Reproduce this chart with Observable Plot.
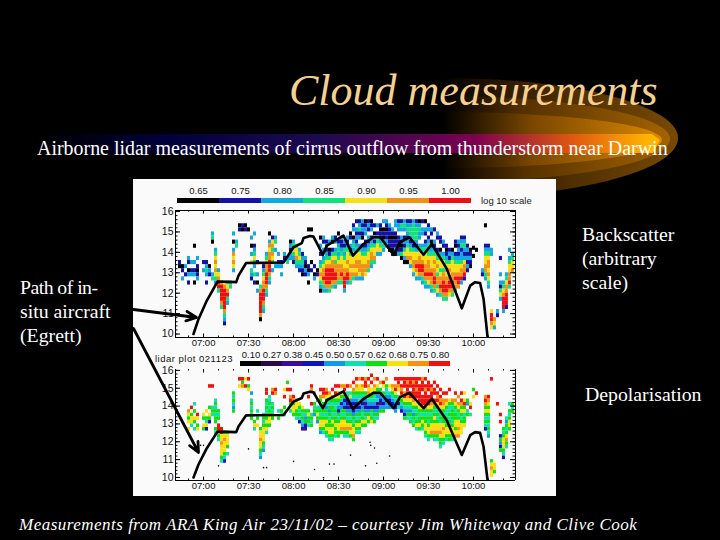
<!DOCTYPE html>
<html>
<head>
<meta charset="utf-8">
<script src="https://cdn.jsdelivr.net/npm/d3@7"></script>
<script src="https://cdn.jsdelivr.net/npm/@observablehq/plot@0.6"></script>
<style>
html,body{margin:0;padding:0;background:#000;}
#slide{position:relative;width:720px;height:540px;overflow:hidden;background:#000;font-family:"Liberation Serif",serif;}
#slide>*{position:absolute;}
.t{color:#fff;white-space:nowrap;line-height:24px;}
svg{overflow:visible;}
</style>
</head>
<body>
<div id="slide">
<svg id="swoosh" width="720" height="540" style="left:0;top:0">
  <defs>
    <linearGradient id="fadeA" gradientUnits="userSpaceOnUse" x1="443" x2="680" y1="0" y2="0">
      <stop offset="0" stop-color="#000"/><stop offset="0.35" stop-color="#3c2200"/><stop offset="1" stop-color="#7a4a05"/>
    </linearGradient>
    <linearGradient id="fadeB" gradientUnits="userSpaceOnUse" x1="443" x2="672" y1="0" y2="0">
      <stop offset="0" stop-color="#000"/><stop offset="0.35" stop-color="#543000"/><stop offset="1" stop-color="#a56400"/>
    </linearGradient>
    <linearGradient id="fadeC" gradientUnits="userSpaceOnUse" x1="443" x2="664" y1="0" y2="0">
      <stop offset="0" stop-color="#000"/><stop offset="0.4" stop-color="#7a4600"/><stop offset="1" stop-color="#dd8800"/>
    </linearGradient>
    <linearGradient id="band" gradientUnits="userSpaceOnUse" x1="40" x2="660" y1="0" y2="0">
      <stop offset="0" stop-color="#000"/><stop offset="0.2" stop-color="#00003c"/>
      <stop offset="0.45" stop-color="#1c0a50"/><stop offset="0.70" stop-color="#7c0050"/>
      <stop offset="0.86" stop-color="#e05810"/><stop offset="0.98" stop-color="#ffb400"/>
    </linearGradient>
    <clipPath id="rightSide"><rect x="443" y="0" width="277" height="540"/></clipPath>
  </defs>
  <g clip-path="url(#rightSide)">
    <ellipse cx="443" cy="138" rx="235" ry="60" fill="url(#fadeA)"/>
    <ellipse cx="443" cy="139" rx="227" ry="43" fill="url(#fadeB)"/>
    <ellipse cx="443" cy="140" rx="219" ry="28" fill="url(#fadeC)"/>
  </g>
  <path d="M40,134 H652 L660,140 L653,153 H40 Z" fill="url(#band)"/>
</svg>
<div class="t" id="title" style="left:289px;top:66px;font-size:44px;line-height:50px;font-style:italic;color:#f6d08e;"></div>
<div class="t" id="subtitle" style="left:37px;top:136px;font-size:19.95px;"></div>
<div id="image" style="left:133px;top:179px;width:423px;height:317px;background:#fafafa;"></div>
<div class="t" id="pathNote" style="left:20px;top:275px;font-size:19.8px;"></div>
<div class="t" id="backNote" style="left:582px;top:222px;font-size:19.8px;"></div>
<div class="t" id="depolNote" style="left:585px;top:382px;font-size:19.8px;"></div>
<div class="t" id="footer" style="left:19px;top:513px;font-size:17px;font-style:italic;letter-spacing:.49px;"></div>
<div id="log10" style="left:481px;top:195px;font:9.5px 'Liberation Sans',sans-serif;color:#222;white-space:nowrap;"></div>
<div id="runLabel" style="left:155px;top:353px;font:9.5px 'Liberation Sans',sans-serif;color:#111;white-space:nowrap;letter-spacing:.5px;"></div>
</div>
<script>
// ---------- slide text ----------
const titleText = "Cloud measurements";
const subtitleText = "Airborne lidar measurements of cirrus outflow from thunderstorm near Darwin";
const pathLines = ["Path of in-", "situ aircraft", "(Egrett)"];
const backLines = ["Backscatter", "(arbitrary", "scale)"];
const depolText = "Depolarisation";
const footerText = "Measurements from ARA King Air 23/11/02 – courtesy Jim Whiteway and Clive Cook";
const log10Text = "log 10 scale";
const runText = "lidar plot 021123";

// ---------- scales ----------
const timeDomain = [-18.7, 208];          // minutes after 07:00
const altitudeDomain = [9.83, 16.05];     // km
const timeTicks = [0, 30, 60, 90, 120, 150, 180];
const timeMinorTicks = [-10,0,10,20,30,40,50,60,70,80,90,100,110,120,130,140,150,160,170,180,190,200];
const altitudeTicks = [10, 11, 12, 13, 14, 15, 16];
const altitudeMinorTicks = d3.range(10, 16.01, 0.2);

// ---------- colour legends ----------
const backscatterLevels = ["0.65","0.75","0.80","0.85","0.90","0.95","1.00"];
const backscatterColours = ["#000000","#1410a8","#12a8e0","#12e07c","#f8de14","#f09014","#ee1010"];
const backscatterCodes = "kbcgyor";
const depolLevels = ["0.10","0.27","0.38","0.45","0.50","0.57","0.62","0.68","0.75","0.80"];
const depolColours = ["#000000","#2c0a44","#3c0c98","#1010c4","#109ae8","#10e0b0","#10e010","#f8e010","#f89010","#f01010"];
const depolCodes = "kpibctgyor";

// ---------- aircraft altitude: minutes after 07:00, km ----------
const flightMinutes = [-6.7,-3.3,2.2,9.3,21.8,23.3,28.4,53.3,60,65.5,66.7,71,73.3,79.6,82.2,93.3,99.6,106.7,113.3,117.8,126.7,131,137.3,146.7,152.2,162.2,172.2,177.8,181.1,184.4,186.7,189.3];
const flightAltitude = [10,10.74,11.64,12.57,12.54,12.86,13.48,13.5,14.25,14.45,14.7,14.8,14.77,13.88,14.33,14.82,13.84,14.41,14.74,14.74,13.88,14.5,14.74,13.88,14.41,13.19,11.26,12.37,12.54,12.5,11.72,9.9];

// ---------- lidar curtains: [2-minute column, top km, codes down in 0.2 km steps] ----------
const columnMinutes = 2, rowKm = 0.2, firstColumnMinute = -18.7;
const backscatterColumns = [
[1,13.6,"bk"],[2,13.4,"kb.c"],[3,13.4,"c.b"],[4,13.8,"cb.kc.b"],[5,13.6,"c.bc"],[6,14.4,"k...c.bc.k"],[7,13.8,"c.bkbc"],
[9,13.6,"b.c"],[10,13.6,"bcgc.b"],[11,13.4,"kcb"],[12,15,"cgk.......cg"],[13,14.2,"cgyoyoygc"],[14,13.2,"cyorrg"],
[15,12.6,"orrrrog"],[16,12.6,"yorrrrrogcb"],[17,12.6,"gyorgc"],[18,12.6,"cg"],[19,15,"c.k.coyoyc"],[20,14.6,"cg"],
[21,15.4,"kb"],[22,15.4,"bk"],[23,15.4,"kb"],[24,15.2,"k"],[25,14.8,"c.k.c.y.gcb"],[26,15,"c..bcgygc.g.b"],[27,13.6,"b..c.k.c"],
[28,12.4,"gorrrrrok"],[29,13.4,"bcgyoorrrogc"],[30,14,"cgyoorrrogc"],[31,15,"k.coyoorrrogc"],[32,14.8,"byogoyg.c"],[33,14.8,"cg.c...c"],
[34,14,"c.bc"],[35,13.6,"bc.c"],[36,14,"cb"],[37,13.8,"cg"],
[38,14.6,"kcbcc"],[39,14.6,"cgygcb"],[40,14.4,"gyyogc"],[41,14.2,"cgygcb"],[42,14,"bcgcbk"],[43,13.8,"cbkcb"],[44,15.2,"k........bkc.k"],[45,15.2,"k.......k.b"],[46,13.4,"b.kc"],[47,13.2,"kb"],
[48,14.8,"k.c.b.cgyoygck"],[49,14.8,"cb.c.cgyoorogc"],[50,14.6,"bcbcgyorrrroc"],[51,14.6,"c.kbgyorrrrog"],[52,14.8,"ck.bgyoorrrog"],[53,14.8,"bc.cgygoorroc"],
[54,15,"k.bcgcgyoooog"],[55,14.8,"cbbcgyyoorog"],[56,14.6,"cbgcgyyoorrrc"],[57,14.8,"cbcgyyoyorrc"],[58,15.4,"..kb.cbgyyoyoog"],[59,15.4,"bc.kcgcyyyoyog"],
[60,15.6,"b.cbcbcgyyooyoc"],[61,15.6,"bcgbc.cgyyoooyc"],[62,15.6,"cbcbk.bcgyyoooc"],[63,15.6,"kbcc.bbcgyyooy"],[64,15.6,"bcb.cbcgyyoog"],[65,15.6,"kbc.bcgyoogc"],
[66,15.4,"b.kcbgyyog"],[67,15.4,"c.bcgyyc"],[68,15.4,"bkbbcgyc"],[69,15.6,"c.kbkcgc"],[70,15.6,"cbkbbcc"],[71,15.4,"cbbkbbk"],[72,15.2,"cbkbbkb"],
[73,15.6,"cc.bkbbck"],[74,15.6,"bcc.bbkbc"],[75,15.6,"bgc.cbkbgk"],[76,15.6,"cgc.bcbgyck"],[77,15.6,"bcgcbcgyyok"],[78,15.6,"bcggcbcgyoyc"],
[79,15.6,"cggggcbgyyooyc"],[80,15.6,"bcgggcbcyyoroyc"],[81,15.6,"kcgcc.cgyoorroc"],[82,15.6,"b.cc..cgyyorrogc"],[83,15.6,"k.cb.bcgyyyoorogc"],
[84,15.4,"bc.bcgcgyoooroyc"],[85,15.2,"cb.kbcgyyyoroogc"],[86,15.2,"b..cbcgyoyoorrog"],[87,15,"cb..bcgyoygoogyc"],[88,14.8,"bb.kcgyygyoorog"],
[89,14.6,"cb.cgyygoorrrog"],[90,14.4,"bkbcgyoyoorrog"],[91,14.2,"bcbgyoyorroy"],[92,14.2,"kcgyyyoorrog"],[93,14.6,"bk.bcgyyoroog"],[94,14.6,"cbcbcgyyorro"],
[95,14.8,"bcgbccgyoorc"],[96,14.8,"bcgcbcyoorb"],[97,14.4,"bcbcbcb"],[98,14.2,"kbcbk"],[99,14.3,"k.k"],[100,14.2,"k"],
[102,13.2,"cb"],[103,15.4,"k....bcgyyoogc"],[104,14.4,"bcgyooyoygc"],[105,14.2,"cc.............yrroy"],[106,10.8,"oyc"],
[107,11.2,"cb"],[108,13.8,"b...c.cbgyc"],[109,12.6,"cgyorrrc"],[110,13,"cgyoorrrb"],[111,14.2,"c.cgyyoorg"],[112,14,"cgyyo"]
];
const depolColumns = [
[4,13.8,"oygy.y"],[5,14,"r.gyyt"],[6,14.2,"t.g.yg.t"],[7,13.6,"ry.gy"],[9,13.6,"yg.yg"],[10,13.8,"y.gtyb"],[11,15.2,"r.....g.ygb"],
[12,15.2,"r.....tgt"],[13,14.4,"tgtgtgg.gt"],[14,13.8,"gtg.rrygt"],[15,12.8,"rryyoyyygt"],[16,12.6,"gyoyyygtb"],[17,12.6,"gyyyg.t"],
[19,14.8,"gtgtcg"],[21,15.6,"r.y"],[22,15.6,"rgo"],[23,15.6,"y.r"],[24,15.6,"r.gy"],[25,14.8,"c.tgtgtg"],[26,13.2,"gyt"],[27,13.8,"t.g.y"],
[28,12.8,"gyyoyygtc"],[29,13.6,"tgtgyyyygtc"],[30,15,"rr.gtgtggygyt"],[31,14.6,"ttgtggyyg"],[32,15,"or..tgtgg"],[33,15,"ro"],[34,13.8,"t.g"],[35,13.8,"gt"],[36,15,"y.r..g.t"],[37,15.4,"g.r"],
[38,15,"r.orgyt"],[39,14.6,"rogyyg"],[40,14.4,"oyyggt"],[41,14.2,"ygtgtb"],[42,14,"ygtgtci"],[43,13.8,"gtcgbi"],[44,14.6,"r...gyggt"],[45,15.2,"ro...r..tgtg"],[46,14.8,"o..gtgc"],[47,14.4,"g.tgygc"],
[48,15,"r.ogytgtgyygc"],[49,15,"rro.gtgtgyygt"],[50,15,"orygtcgtgygygt"],[51,14.8,"oygtgcgtggyygt"],[52,15,"r.ogtggtgygyygt"],[53,15.2,"r.rygttgtggyggt"],
[54,15.2,"r.oygtcbgtgyygg"],[55,15.2,"o.ygtbcgtgyyog"],[56,15.2,"orygbcbgtgyyogt"],[57,15.2,"r.ttbibcgtgyogt"],[58,15.2,"o.tycbicgtgyoyg"],[59,15.4,"r.ogtcbibcgtgyyog"],
[60,15.6,"r.oygtcibcgtgygt"],[61,15.6,"o.yygttcbcgtgygt"],[62,15.6,"r.oygtcbcgtgyg"],[63,15.6,"orr.gtcibcgtyg"],[64,15.6,"r.oyogtcbcgyg"],[65,15.8,"r.r.yygtcbgtgy"],
[66,15.6,"o.oygttcbcgtg"],[67,15.6,"r.ygtctibcgt"],[68,15.4,"o.gtcbicg"],[69,15.4,"ry.gtcbcg"],[70,15.6,"o.gttcbcc"],[71,15.2,"y.tcbbc"],[72,15.2,"oygtcbc"],
[73,15.6,"r.orygtcbc"],[74,15.6,"rroy.tcbt"],[75,15.6,"r.rorygtcb"],[76,15.6,"rrr.orygtcbg"],[77,15.6,"rorrroygtcgt"],[78,15.6,"rrr.rrygtcgtg"],
[79,15.6,"rorrrroygtcgtg"],[80,15.6,"rrrorr.ygtgtgyt"],[81,15.6,"r.rrrrroygtggyg"],[82,15.6,"orrr.rrrygtgygt"],[83,15.6,"r.rorrrrogtggyygt"],[84,15.4,"rrr.rrrygtgtgyygt"],
[85,15.2,"rorrroygtggyyog"],[86,15.4,"r.rr.rogtgygyyogt"],[87,15.2,"r.rorygtgtgyyogt"],[88,15,"r.rorygtgtyyoyggt"],[89,14.8,"r.ooygtggyoyygt"],[90,14.8,"r.oygttgtgyygt"],
[91,15,"r..ygttgtggyygg"],[92,14.4,"ogtgggtgyygt"],[93,14.8,"r.oygtggyygyo"],[94,14.6,"o.oygtgyyoyo"],[95,14.8,"r.rogygtgyyy"],[96,14.8,"y.yrgytggy"],
[97,14.4,"gc.tg"],[98,14.2,"yr.t"],[99,15,"g.y"],[100,14.8,"r"],[103,14.6,"orogygtgtb"],[104,14.6,"roygygtgtgtc"],[105,15.6,"r"],[105,11,"gyoyy"],[106,10.8,"yyg"],
[107,14.2,"r"],[108,13.6,"r.r...bgcbg"],[109,12.8,"gtgyyygtb"],[110,13.4,"tcgtgyogt"],[111,14.2,"t.gtgyyg"],[112,14.2,"gtg"]
];
// isolated black returns in the depolarisation panel
const speckMinutes = [111,111.5,114,98,84,87,108,115.5,74,80,40,42,-2,0,10,124,60,30];
const speckAltitude = [11.97,11.8,11.65,11.25,10.75,10.75,10.65,10.8,10.45,10,10.55,10.55,11.8,11.8,10.65,11.2,10.9,11.6];

// ---------- pointer arrows, page pixels ----------
const arrowX1 = [133, 133], arrowY1 = [309, 328], arrowX2 = [196, 198], arrowY2 = [317, 452];

// ---------- build ----------
const slide = document.getElementById("slide");
const fontAxis = {fontFamily:"'Liberation Sans',sans-serif", fontSize:9.5, fill:"#111"};
const hhmm = m => { const v = 420 + m; return String(Math.floor(v/60)).padStart(2,"0")+":"+String(v%60).padStart(2,"0"); };
const toCells = (columns, levels, codes) => columns.flatMap(([col, top, s]) =>
  [...s].flatMap((ch, k) => ch === "." ? [] : [{
    t: firstColumnMinute + col*columnMinutes,
    alt: top - k*rowKm,
    level: levels[codes.indexOf(ch)]
  }]));

function panel({columns, levels, colours, codes, height, marginTop, top, specks, framed}) {
  const [x0, x1] = timeDomain, [y0, y1] = altitudeDomain;
  const pxPerMin = 340/(x1-x0), pxPerKm = (height-marginTop-15)/(y1-y0);
  const xLen = px => px/pxPerMin, yLen = px => px/pxPerKm;
  const sideTicks = (values, len) => [
    Plot.ruleY(values, {y:d=>d, x1:x0, x2:x0+xLen(len), stroke:"#000", strokeWidth:1}),
    Plot.ruleY(values, {y:d=>d, x1:x1-xLen(len), x2:x1, stroke:"#000", strokeWidth:1})
  ];
  const edgeTicks = (values, len) => [
    Plot.ruleX(values, {x:d=>d, y1:y0, y2:y0+yLen(len), stroke:"#000", strokeWidth:1}),
    Plot.ruleX(values, {x:d=>d, y1:y1-yLen(len), y2:y1, stroke:"#000", strokeWidth:1})
  ];
  const chart = Plot.plot({
    width:423, height, marginLeft:42, marginRight:41, marginTop, marginBottom:15,
    style:{background:"transparent", overflow:"visible"},
    x:{domain:timeDomain}, y:{domain:altitudeDomain},
    color:{type:"ordinal", domain:levels, range:colours},
    marks:[
      Plot.rect(toCells(columns, levels, codes), {
        x1:d=>d.t, x2:d=>d.t+columnMinutes, y1:d=>d.alt-rowKm, y2:d=>d.alt,
        fill:"level", clip:true
      }),
      specks ? Plot.dot(speckMinutes.map((t,i)=>({t,a:speckAltitude[i]})), {x:"t", y:"a", r:0.8, fill:"#000"}) : null,
      ...sideTicks(altitudeMinorTicks, 2.5),
      ...sideTicks(altitudeTicks, 5),
      ...edgeTicks(timeMinorTicks, 1.5),
      ...edgeTicks(timeTicks, 3.5),
      framed ? Plot.frame({stroke:"#000", strokeWidth:1}) : null,
      framed ? null : Plot.ruleY([y0], {stroke:"#000"}),
      framed ? null : Plot.ruleX([x0, x1], {stroke:"#000"}),
      Plot.line(flightMinutes.map((t,i)=>({t,a:flightAltitude[i]})), {x:"t", y:"a", stroke:"#000", strokeWidth:2.6, strokeLinejoin:"round", clip:true}),
      Plot.axisX({ticks:timeTicks, tickSize:0, tickPadding:2, tickFormat:hhmm, label:null, ...fontAxis}),
      Plot.axisY({ticks:altitudeTicks, tickSize:0, tickPadding:2, tickFormat:d=>String(d), label:null, ...fontAxis, fontSize:10.5})
    ]
  });
  chart.style.left = "133px"; chart.style.top = top+"px";
  slide.append(chart);
  // soften the raster the way the compressed slide picture does
  const firstCell = chart.querySelector("rect");
  if (firstCell) firstCell.parentNode.setAttribute("style", "filter:blur(0.8px)");
}

function legend({levels, colours, left, top, width, padding}) {
  const chart = Plot.plot({
    width, height:19, marginTop:14, marginBottom:0, marginLeft:0, marginRight:0,
    style:{background:"transparent", overflow:"visible"},
    x:{type:"band", domain:levels, padding:0},
    color:{type:"ordinal", domain:levels, range:colours},
    marks:[
      Plot.cell(levels, {x:d=>d, fill:d=>d, shapeRendering:"crispEdges"}),
      Plot.axisX({anchor:"top", tickSize:0, tickPadding:padding, label:null, ...fontAxis})
    ]
  });
  chart.style.left = left+"px"; chart.style.top = top+"px";
  slide.append(chart);
}

const lines = (id, arr, firstSpacing) => { const el = document.getElementById(id); arr.forEach((s,i) => { const d = document.createElement("div"); d.textContent = s; if(i===0 && firstSpacing) d.style.letterSpacing = firstSpacing; el.append(d); }); };
document.getElementById("title").textContent = titleText;
document.getElementById("subtitle").textContent = subtitleText;
lines("pathNote", pathLines, "-0.55px");
lines("backNote", backLines);
document.getElementById("depolNote").textContent = depolText;
document.getElementById("footer").textContent = footerText;
document.getElementById("log10").textContent = log10Text;
document.getElementById("runLabel").textContent = runText;

legend({levels:backscatterLevels, colours:backscatterColours, left:175, top:184, width:297, padding:5});
legend({levels:depolLevels, colours:depolColours, left:239, top:347, width:212, padding:4});
panel({columns:backscatterColumns, levels:backscatterLevels, colours:backscatterColours, codes:backscatterCodes, height:147, marginTop:5, top:205, framed:true});
panel({columns:depolColumns, levels:depolLevels, colours:depolColours, codes:depolCodes, height:129, marginTop:3, top:366, specks:true, framed:false});

const pointers = Plot.plot({
  width:720, height:540, margin:0,
  style:{background:"transparent", overflow:"visible"},
  x:{domain:[0,720], range:[0,720], axis:null}, y:{domain:[0,540], range:[0,540], axis:null},
  marks:[
    Plot.arrow(arrowX1.map((x,i)=>({x1:x,y1:arrowY1[i],x2:arrowX2[i],y2:arrowY2[i]})), {
      x1:"x1", y1:"y1", x2:"x2", y2:"y2", stroke:"#000", strokeWidth:2.8, headLength:6, headAngle:50, insetEnd:0
    })
  ]
});
pointers.style.left = "0"; pointers.style.top = "0"; pointers.style.pointerEvents = "none";
slide.append(pointers);
</script>
</body>
</html>
